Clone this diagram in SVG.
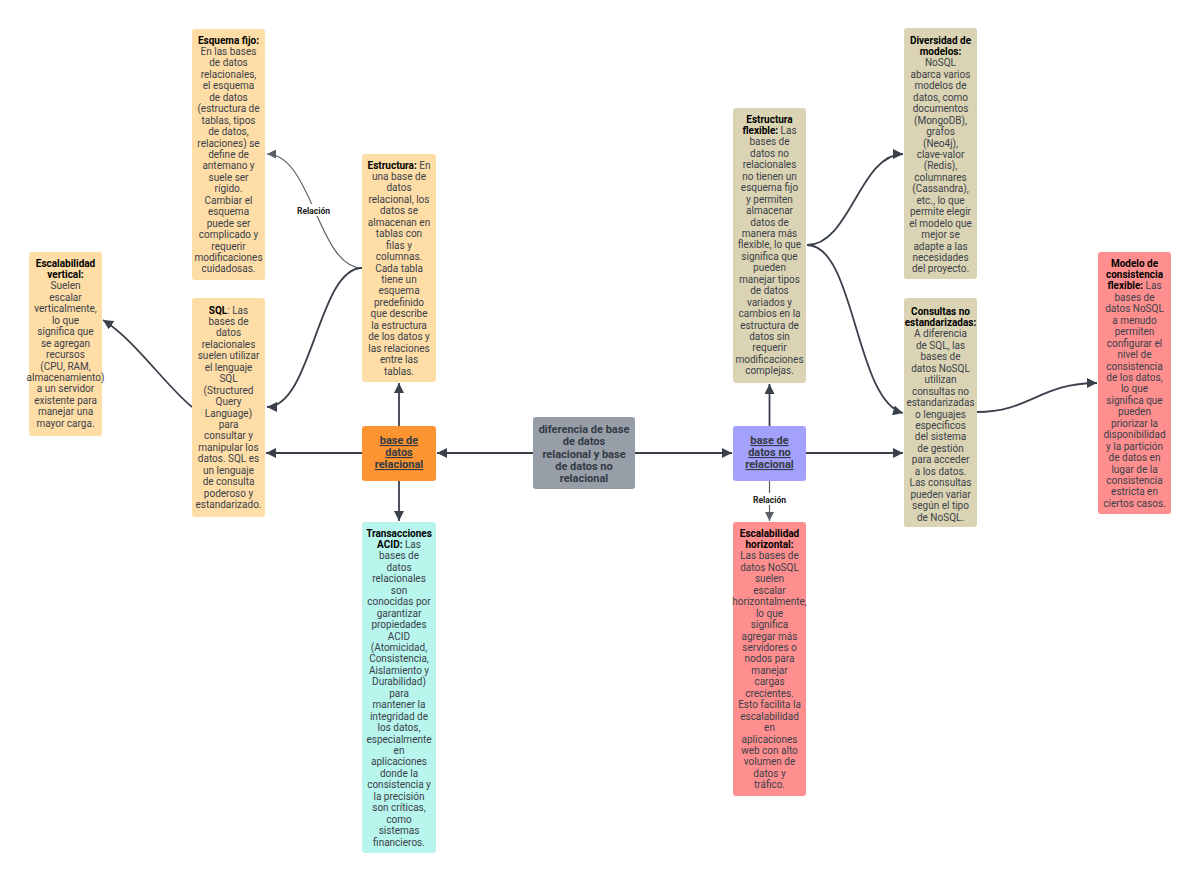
<svg xmlns="http://www.w3.org/2000/svg" width="1200" height="881" viewBox="0 0 1200 881">
<style>
.t{font-family:Roboto,"Liberation Sans",sans-serif;font-size:10px;fill:#3a414a;text-anchor:middle}
.b{font-weight:bold;fill:#000}
.m{font-family:Roboto,"Liberation Sans",sans-serif;font-size:11px;font-weight:bold;fill:#333a44;text-anchor:middle}
.u{text-decoration:underline}
.lbl{font-family:Roboto,"Liberation Sans",sans-serif;font-size:8.5px;font-weight:bold;fill:#222;text-anchor:middle}
.c{fill:none;stroke:#3a414a;stroke-width:1.8;marker-end:url(#ah)}
.g{fill:none;stroke:#5b6068;stroke-width:1.2;marker-end:url(#ahg)}
.peach{fill:#FEDDA7}
.tan{fill:#DAD4B4}
.red{fill:#FF8F8F}
</style>
<defs>
<marker id="ah" viewBox="0 0 10 10" refX="10" refY="5" markerUnits="userSpaceOnUse" markerWidth="10" markerHeight="10" orient="auto"><path d="M0,0 L10,5 L0,10 z" fill="#3a414a"/></marker>
<marker id="ahg" viewBox="0 0 10 10" refX="10" refY="5" markerUnits="userSpaceOnUse" markerWidth="9" markerHeight="9" orient="auto"><path d="M0,0 L10,5 L0,10 z" fill="#5b6068"/></marker>
</defs>
<rect width="1200" height="881" fill="#fff"/>

<g id="connectors">
<path class="c" d="M533,453 L437,453"/>
<path class="c" d="M362,453 L266,453"/>
<path class="c" d="M399,426 L399,383"/>
<path class="c" d="M399,481 L399,521"/>
<path class="g" d="M362,268 C318,268 312,154 267,154"/>
<rect x="295" y="204" width="37" height="12" fill="#fff"/>
<text class="lbl" x="313.5" y="213.5">Relación</text>
<path class="c" d="M362,268 C318,268 312,407 267,407"/>
<path class="c" d="M192,407 C165,385 135,340 103,320"/>
<path class="c" d="M635,453 L732,453"/>
<path class="c" d="M769.5,426 L769.5,384"/>
<path class="c" d="M806,453 L903,453"/>
<path class="g" d="M769.5,481 L769.5,521"/>
<rect x="751" y="493" width="37" height="12" fill="#fff"/>
<text class="lbl" x="769.5" y="502.5">Relación</text>
<path class="c" d="M807,245 C850,245 860,154 903,154"/>
<path class="c" d="M807,245 C855,245 855,400 903,413"/>
<path class="c" d="M977,412 C1030,412 1040,383 1097,383"/>
</g>

<g id="esquema-fijo">
<rect class="peach" x="192" y="29" width="73" height="251" rx="3"/>
<text class="t" y="43.5"><tspan x="228.5" class="b">Esquema fijo:</tspan
><tspan x="228.5" dy="11.45">En las bases</tspan
><tspan x="228.5" dy="11.45">de datos</tspan
><tspan x="228.5" dy="11.45">relacionales,</tspan
><tspan x="228.5" dy="11.45">el esquema</tspan
><tspan x="228.5" dy="11.45">de datos</tspan
><tspan x="228.5" dy="11.45">(estructura de</tspan
><tspan x="228.5" dy="11.45">tablas, tipos</tspan
><tspan x="228.5" dy="11.45">de datos,</tspan
><tspan x="228.5" dy="11.45">relaciones) se</tspan
><tspan x="228.5" dy="11.45">define de</tspan
><tspan x="228.5" dy="11.45">antemano y</tspan
><tspan x="228.5" dy="11.45">suele ser</tspan
><tspan x="228.5" dy="11.45">rígido.</tspan
><tspan x="228.5" dy="11.45">Cambiar el</tspan
><tspan x="228.5" dy="11.45">esquema</tspan
><tspan x="228.5" dy="11.45">puede ser</tspan
><tspan x="228.5" dy="11.45">complicado y</tspan
><tspan x="228.5" dy="11.45">requerir</tspan
><tspan x="228.5" dy="11.45">modificaciones</tspan
><tspan x="228.5" dy="11.45">cuidadosas.</tspan></text>
</g>

<g id="escalabilidad-vertical">
<rect class="peach" x="29" y="252" width="73" height="184" rx="3"/>
<text class="t" y="266.5"><tspan x="65.5" class="b">Escalabilidad</tspan
><tspan x="65.5" dy="11.45" class="b">vertical:</tspan
><tspan x="65.5" dy="11.45">Suelen</tspan
><tspan x="65.5" dy="11.45">escalar</tspan
><tspan x="65.5" dy="11.45">verticalmente,</tspan
><tspan x="65.5" dy="11.45">lo que</tspan
><tspan x="65.5" dy="11.45">significa que</tspan
><tspan x="65.5" dy="11.45">se agregan</tspan
><tspan x="65.5" dy="11.45">recursos</tspan
><tspan x="65.5" dy="11.45">(CPU, RAM,</tspan
><tspan x="65.5" dy="11.45">almacenamiento)</tspan
><tspan x="65.5" dy="11.45">a un servidor</tspan
><tspan x="65.5" dy="11.45">existente para</tspan
><tspan x="65.5" dy="11.45">manejar una</tspan
><tspan x="65.5" dy="11.45">mayor carga.</tspan></text>
</g>

<g id="sql">
<rect class="peach" x="192" y="298" width="73" height="219" rx="3"/>
<text class="t" y="313.5"><tspan x="228.5"><tspan class="b">SQL</tspan>: Las</tspan
><tspan x="228.5" dy="11.45">bases de</tspan
><tspan x="228.5" dy="11.45">datos</tspan
><tspan x="228.5" dy="11.45">relacionales</tspan
><tspan x="228.5" dy="11.45">suelen utilizar</tspan
><tspan x="228.5" dy="11.45">el lenguaje</tspan
><tspan x="228.5" dy="11.45">SQL</tspan
><tspan x="228.5" dy="11.45">(Structured</tspan
><tspan x="228.5" dy="11.45">Query</tspan
><tspan x="228.5" dy="11.45">Language)</tspan
><tspan x="228.5" dy="11.45">para</tspan
><tspan x="228.5" dy="11.45">consultar y</tspan
><tspan x="228.5" dy="11.45">manipular los</tspan
><tspan x="228.5" dy="11.45">datos. SQL es</tspan
><tspan x="228.5" dy="11.45">un lenguaje</tspan
><tspan x="228.5" dy="11.45">de consulta</tspan
><tspan x="228.5" dy="11.45">poderoso y</tspan
><tspan x="228.5" dy="11.45">estandarizado.</tspan></text>
</g>

<g id="estructura">
<rect class="peach" x="362" y="154" width="74" height="228" rx="3"/>
<text class="t" y="168.5"><tspan x="399"><tspan class="b">Estructura:</tspan> En</tspan
><tspan x="399" dy="11.45">una base de</tspan
><tspan x="399" dy="11.45">datos</tspan
><tspan x="399" dy="11.45">relacional, los</tspan
><tspan x="399" dy="11.45">datos se</tspan
><tspan x="399" dy="11.45">almacenan en</tspan
><tspan x="399" dy="11.45">tablas con</tspan
><tspan x="399" dy="11.45">filas y</tspan
><tspan x="399" dy="11.45">columnas.</tspan
><tspan x="399" dy="11.45">Cada tabla</tspan
><tspan x="399" dy="11.45">tiene un</tspan
><tspan x="399" dy="11.45">esquema</tspan
><tspan x="399" dy="11.45">predefinido</tspan
><tspan x="399" dy="11.45">que describe</tspan
><tspan x="399" dy="11.45">la estructura</tspan
><tspan x="399" dy="11.45">de los datos y</tspan
><tspan x="399" dy="11.45">las relaciones</tspan
><tspan x="399" dy="11.45">entre las</tspan
><tspan x="399" dy="11.45">tablas.</tspan></text>
</g>

<g id="base-relacional">
<rect x="362" y="426" width="74" height="55" rx="3" fill="#FC9432"/>
<text class="m u" y="444"><tspan x="399">base de</tspan
><tspan x="399" dy="12">datos</tspan
><tspan x="399" dy="12">relacional</tspan></text>
</g>

<g id="diferencia">
<rect x="533" y="417" width="102" height="72" rx="3" fill="#979EA8"/>
<text class="m" y="433"><tspan x="584">diferencia de base</tspan
><tspan x="584" dy="12.25">de datos</tspan
><tspan x="584" dy="12.25">relacional y base</tspan
><tspan x="584" dy="12.25">de datos no</tspan
><tspan x="584" dy="12.25">relacional</tspan></text>
</g>

<g id="acid">
<rect x="362" y="522" width="74" height="331" rx="3" fill="#B8F5ED"/>
<text class="t" y="536.5"><tspan x="399" class="b">Transacciones</tspan
><tspan x="399" dy="11.45"><tspan class="b">ACID:</tspan> Las</tspan
><tspan x="399" dy="11.45">bases de</tspan
><tspan x="399" dy="11.45">datos</tspan
><tspan x="399" dy="11.45">relacionales</tspan
><tspan x="399" dy="11.45">son</tspan
><tspan x="399" dy="11.45">conocidas por</tspan
><tspan x="399" dy="11.45">garantizar</tspan
><tspan x="399" dy="11.45">propiedades</tspan
><tspan x="399" dy="11.45">ACID</tspan
><tspan x="399" dy="11.45">(Atomicidad,</tspan
><tspan x="399" dy="11.45">Consistencia,</tspan
><tspan x="399" dy="11.45">Aislamiento y</tspan
><tspan x="399" dy="11.45">Durabilidad)</tspan
><tspan x="399" dy="11.45">para</tspan
><tspan x="399" dy="11.45">mantener la</tspan
><tspan x="399" dy="11.45">integridad de</tspan
><tspan x="399" dy="11.45">los datos,</tspan
><tspan x="399" dy="11.45">especialmente</tspan
><tspan x="399" dy="11.45">en</tspan
><tspan x="399" dy="11.45">aplicaciones</tspan
><tspan x="399" dy="11.45">donde la</tspan
><tspan x="399" dy="11.45">consistencia y</tspan
><tspan x="399" dy="11.45">la precisión</tspan
><tspan x="399" dy="11.45">son críticas,</tspan
><tspan x="399" dy="11.45">como</tspan
><tspan x="399" dy="11.45">sistemas</tspan
><tspan x="399" dy="11.45">financieros.</tspan></text>
</g>

<g id="estructura-flexible">
<rect class="tan" x="733" y="108" width="73" height="275" rx="3"/>
<text class="t" y="122.5"><tspan x="769.5" class="b">Estructura</tspan
><tspan x="769.5" dy="11.45"><tspan class="b">flexible:</tspan> Las</tspan
><tspan x="769.5" dy="11.45">bases de</tspan
><tspan x="769.5" dy="11.45">datos no</tspan
><tspan x="769.5" dy="11.45">relacionales</tspan
><tspan x="769.5" dy="11.45">no tienen un</tspan
><tspan x="769.5" dy="11.45">esquema fijo</tspan
><tspan x="769.5" dy="11.45">y permiten</tspan
><tspan x="769.5" dy="11.45">almacenar</tspan
><tspan x="769.5" dy="11.45">datos de</tspan
><tspan x="769.5" dy="11.45">manera más</tspan
><tspan x="769.5" dy="11.45">flexible, lo que</tspan
><tspan x="769.5" dy="11.45">significa que</tspan
><tspan x="769.5" dy="11.45">pueden</tspan
><tspan x="769.5" dy="11.45">manejar tipos</tspan
><tspan x="769.5" dy="11.45">de datos</tspan
><tspan x="769.5" dy="11.45">variados y</tspan
><tspan x="769.5" dy="11.45">cambios en la</tspan
><tspan x="769.5" dy="11.45">estructura de</tspan
><tspan x="769.5" dy="11.45">datos sin</tspan
><tspan x="769.5" dy="11.45">requerir</tspan
><tspan x="769.5" dy="11.45">modificaciones</tspan
><tspan x="769.5" dy="11.45">complejas.</tspan></text>
</g>

<g id="base-no-relacional">
<rect x="733" y="426" width="73" height="55" rx="3" fill="#A3A1FB"/>
<text class="m u" y="444"><tspan x="769.5">base de</tspan
><tspan x="769.5" dy="12">datos no</tspan
><tspan x="769.5" dy="12">relacional</tspan></text>
</g>

<g id="escalabilidad-horizontal">
<rect class="red" x="733" y="522" width="73" height="274" rx="3"/>
<text class="t" y="536.5"><tspan x="769.5" class="b">Escalabilidad</tspan
><tspan x="769.5" dy="11.45" class="b">horizontal:</tspan
><tspan x="769.5" dy="11.45">Las bases de</tspan
><tspan x="769.5" dy="11.45">datos NoSQL</tspan
><tspan x="769.5" dy="11.45">suelen</tspan
><tspan x="769.5" dy="11.45">escalar</tspan
><tspan x="769.5" dy="11.45">horizontalmente,</tspan
><tspan x="769.5" dy="11.45">lo que</tspan
><tspan x="769.5" dy="11.45">significa</tspan
><tspan x="769.5" dy="11.45">agregar más</tspan
><tspan x="769.5" dy="11.45">servidores o</tspan
><tspan x="769.5" dy="11.45">nodos para</tspan
><tspan x="769.5" dy="11.45">manejar</tspan
><tspan x="769.5" dy="11.45">cargas</tspan
><tspan x="769.5" dy="11.45">crecientes.</tspan
><tspan x="769.5" dy="11.45">Esto facilita la</tspan
><tspan x="769.5" dy="11.45">escalabilidad</tspan
><tspan x="769.5" dy="11.45">en</tspan
><tspan x="769.5" dy="11.45">aplicaciones</tspan
><tspan x="769.5" dy="11.45">web con alto</tspan
><tspan x="769.5" dy="11.45">volumen de</tspan
><tspan x="769.5" dy="11.45">datos y</tspan
><tspan x="769.5" dy="11.45">tráfico.</tspan></text>
</g>

<g id="diversidad-modelos">
<rect class="tan" x="904" y="28" width="73" height="251" rx="3"/>
<text class="t" y="43.5"><tspan x="940.5" class="b">Diversidad de</tspan
><tspan x="940.5" dy="11.45" class="b">modelos:</tspan
><tspan x="940.5" dy="11.45">NoSQL</tspan
><tspan x="940.5" dy="11.45">abarca varios</tspan
><tspan x="940.5" dy="11.45">modelos de</tspan
><tspan x="940.5" dy="11.45">datos, como</tspan
><tspan x="940.5" dy="11.45">documentos</tspan
><tspan x="940.5" dy="11.45">(MongoDB),</tspan
><tspan x="940.5" dy="11.45">grafos</tspan
><tspan x="940.5" dy="11.45">(Neo4j),</tspan
><tspan x="940.5" dy="11.45">clave-valor</tspan
><tspan x="940.5" dy="11.45">(Redis),</tspan
><tspan x="940.5" dy="11.45">columnares</tspan
><tspan x="940.5" dy="11.45">(Cassandra),</tspan
><tspan x="940.5" dy="11.45">etc., lo que</tspan
><tspan x="940.5" dy="11.45">permite elegir</tspan
><tspan x="940.5" dy="11.45">el modelo que</tspan
><tspan x="940.5" dy="11.45">mejor se</tspan
><tspan x="940.5" dy="11.45">adapte a las</tspan
><tspan x="940.5" dy="11.45">necesidades</tspan
><tspan x="940.5" dy="11.45">del proyecto.</tspan></text>
</g>

<g id="consultas">
<rect class="tan" x="904" y="298" width="73" height="229" rx="3"/>
<text class="t" y="314.5"><tspan x="940.5" class="b">Consultas no</tspan
><tspan x="940.5" dy="11.45" class="b">estandarizadas:</tspan
><tspan x="940.5" dy="11.45">A diferencia</tspan
><tspan x="940.5" dy="11.45">de SQL, las</tspan
><tspan x="940.5" dy="11.45">bases de</tspan
><tspan x="940.5" dy="11.45">datos NoSQL</tspan
><tspan x="940.5" dy="11.45">utilizan</tspan
><tspan x="940.5" dy="11.45">consultas no</tspan
><tspan x="940.5" dy="11.45">estandarizadas</tspan
><tspan x="940.5" dy="11.45">o lenguajes</tspan
><tspan x="940.5" dy="11.45">específicos</tspan
><tspan x="940.5" dy="11.45">del sistema</tspan
><tspan x="940.5" dy="11.45">de gestión</tspan
><tspan x="940.5" dy="11.45">para acceder</tspan
><tspan x="940.5" dy="11.45">a los datos.</tspan
><tspan x="940.5" dy="11.45">Las consultas</tspan
><tspan x="940.5" dy="11.45">pueden variar</tspan
><tspan x="940.5" dy="11.45">según el tipo</tspan
><tspan x="940.5" dy="11.45">de NoSQL.</tspan></text>
</g>

<g id="modelo-consistencia">
<rect class="red" x="1098" y="252" width="73" height="262" rx="3"/>
<text class="t" y="266.5"><tspan x="1134.5" class="b">Modelo de</tspan
><tspan x="1134.5" dy="11.45" class="b">consistencia</tspan
><tspan x="1134.5" dy="11.45"><tspan class="b">flexible:</tspan> Las</tspan
><tspan x="1134.5" dy="11.45">bases de</tspan
><tspan x="1134.5" dy="11.45">datos NoSQL</tspan
><tspan x="1134.5" dy="11.45">a menudo</tspan
><tspan x="1134.5" dy="11.45">permiten</tspan
><tspan x="1134.5" dy="11.45">configurar el</tspan
><tspan x="1134.5" dy="11.45">nivel de</tspan
><tspan x="1134.5" dy="11.45">consistencia</tspan
><tspan x="1134.5" dy="11.45">de los datos,</tspan
><tspan x="1134.5" dy="11.45">lo que</tspan
><tspan x="1134.5" dy="11.45">significa que</tspan
><tspan x="1134.5" dy="11.45">pueden</tspan
><tspan x="1134.5" dy="11.45">priorizar la</tspan
><tspan x="1134.5" dy="11.45">disponibilidad</tspan
><tspan x="1134.5" dy="11.45">y la partición</tspan
><tspan x="1134.5" dy="11.45">de datos en</tspan
><tspan x="1134.5" dy="11.45">lugar de la</tspan
><tspan x="1134.5" dy="11.45">consistencia</tspan
><tspan x="1134.5" dy="11.45">estricta en</tspan
><tspan x="1134.5" dy="11.45">ciertos casos.</tspan></text>
</g>
</svg>
